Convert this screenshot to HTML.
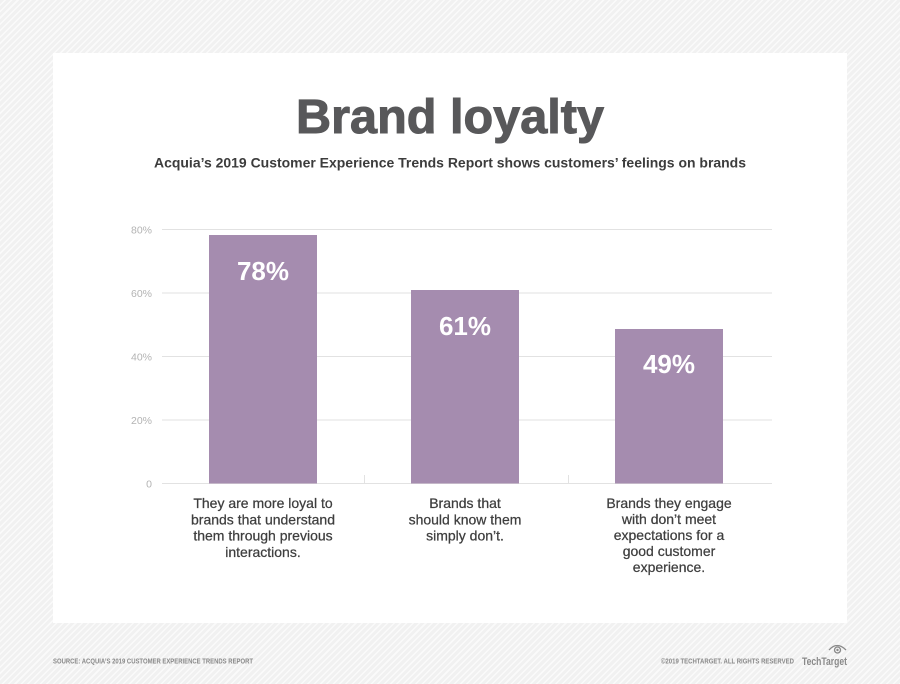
<!DOCTYPE html>
<html><head><meta charset="utf-8"><style>
html,body{margin:0;padding:0;}
body{width:900px;height:684px;overflow:hidden;background-color:#f2f2f2;
background-image:repeating-linear-gradient(135deg,#f1f1f1 0px,#f1f1f1 3px,#fafafa 3px,#fafafa 4.5px);}
svg{position:absolute;left:0;top:0;}
</style></head><body>
<svg width="900" height="684" viewBox="0 0 900 684" xmlns="http://www.w3.org/2000/svg" font-family="'Liberation Sans', sans-serif">
<rect x="53" y="53" width="794" height="570" fill="#ffffff"/>
<text x="450" y="133" text-anchor="middle" font-size="48" font-weight="bold" fill="#58585a" stroke="#58585a" stroke-width="1" textLength="308" lengthAdjust="spacingAndGlyphs">Brand loyalty</text>
<text x="450" y="167.5" text-anchor="middle" font-size="13.5" font-weight="bold" fill="#3c3c3c" textLength="592" lengthAdjust="spacingAndGlyphs">Acquia’s 2019 Customer Experience Trends Report shows customers’ feelings on brands</text>
<g stroke="#e2e2e2" stroke-width="1">
<line x1="162" y1="229.5" x2="772" y2="229.5"/>
<line x1="162" y1="293" x2="772" y2="293"/>
<line x1="162" y1="356.5" x2="772" y2="356.5"/>
<line x1="162" y1="420" x2="772" y2="420"/>
<line x1="162" y1="483.5" x2="772" y2="483.5"/>
<line x1="364.5" y1="475" x2="364.5" y2="483.5"/>
<line x1="568.5" y1="475" x2="568.5" y2="483.5"/>
</g>
<g font-size="10.5" fill="#b3b3b3" text-anchor="end">
<text x="152" y="233.5">80%</text>
<text x="152" y="297">60%</text>
<text x="152" y="360.5">40%</text>
<text x="152" y="424">20%</text>
<text x="152" y="487.5">0</text>
</g>
<g fill="#a58caf">
<rect x="209" y="235" width="108" height="248.5"/>
<rect x="411" y="290" width="108" height="193.5"/>
<rect x="615" y="329" width="108" height="154.5"/>
</g>
<g font-size="26" font-weight="bold" fill="#ffffff" text-anchor="middle">
<text x="263" y="280">78%</text>
<text x="465" y="335">61%</text>
<text x="669" y="373">49%</text>
</g>
<g font-size="14" fill="#3e3e3e" stroke="#3e3e3e" stroke-width="0.25" text-anchor="middle">
<text x="263" y="508">They are more loyal to</text>
<text x="263" y="524.3">brands that understand</text>
<text x="263" y="540.6">them through previous</text>
<text x="263" y="556.9">interactions.</text>
<text x="465" y="508">Brands that</text>
<text x="465" y="524.3">should know them</text>
<text x="465" y="540.6">simply don’t.</text>
<text x="669" y="508">Brands they engage</text>
<text x="669" y="524">with don’t meet</text>
<text x="669" y="540">expectations for a</text>
<text x="669" y="556">good customer</text>
<text x="669" y="572">experience.</text>
</g>
<text x="53" y="663.5" font-size="7" font-weight="bold" fill="#8a8a8a" textLength="200" lengthAdjust="spacingAndGlyphs">SOURCE: ACQUIA’S 2019 CUSTOMER EXPERIENCE TRENDS REPORT</text>
<text x="661" y="663.5" font-size="7" font-weight="bold" fill="#8a8a8a" textLength="133" lengthAdjust="spacingAndGlyphs">©2019 TECHTARGET. ALL RIGHTS RESERVED</text>
<text x="802" y="665" font-size="11" font-weight="bold" fill="#8a8a8a" textLength="45" lengthAdjust="spacingAndGlyphs">TechTarget</text>
<g fill="none" stroke="#8a8a8a" stroke-width="1.3">
<path d="M829 650 Q837 641 846 650"/>
<circle cx="837.5" cy="650" r="3"/>
</g>
<circle cx="837.5" cy="650" r="1.2" fill="#8a8a8a"/>
</svg>
</body></html>
